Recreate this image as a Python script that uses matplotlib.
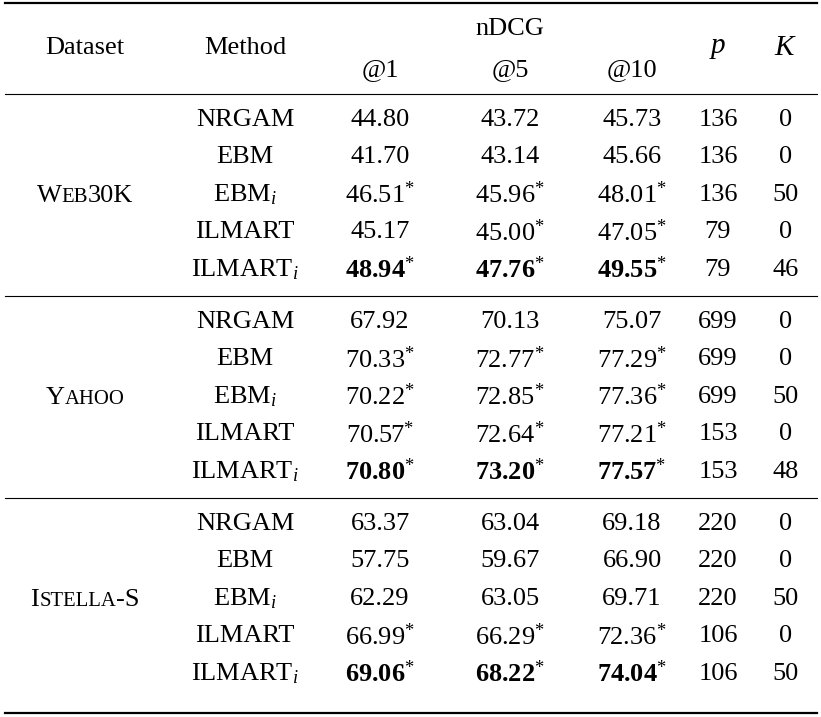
import matplotlib.pyplot as plt

plt.rcParams["font.family"] = ["Liberation Serif", "DejaVu Serif"]
plt.rcParams["mathtext.fontset"] = "custom"
plt.rcParams["mathtext.rm"] = "Liberation Serif"
plt.rcParams["mathtext.it"] = "Liberation Serif:italic"
plt.rcParams["mathtext.bf"] = "Liberation Serif:bold"

# dataset names as (text, small-caps?) pieces
datasets = [
    [("W", False), ("EB", True), ("30K", False)],
    [("Y", False), ("AHOO", True)],
    [("I", False), ("STELLA", True), ("-S", False)],
]
methods = ["NRGAM", "EBM", "EBM$_i$", "ILMART", "ILMART$_i$"]
ndcg1 = [
    ["44.80", "41.70", "46.51*", "45.17", "B48.94*"],
    ["67.92", "70.33*", "70.22*", "70.57*", "B70.80*"],
    ["63.37", "57.75", "62.29", "66.99*", "B69.06*"],
]
ndcg5 = [
    ["43.72", "43.14", "45.96*", "45.00*", "B47.76*"],
    ["70.13", "72.77*", "72.85*", "72.64*", "B73.20*"],
    ["63.04", "59.67", "63.05", "66.29*", "B68.22*"],
]
ndcg10 = [
    ["45.73", "45.66", "48.01*", "47.05*", "B49.55*"],
    ["75.07", "77.29*", "77.36*", "77.21*", "B77.57*"],
    ["69.18", "66.90", "69.71", "72.36*", "B74.04*"],
]
p_vals = [[136, 136, 136, 79, 79], [699, 699, 699, 153, 153], [220, 220, 220, 106, 106]]
k_vals = [[0, 0, 50, 0, 46], [0, 0, 50, 0, 48], [0, 0, 50, 0, 50]]

FS = 19
fig = plt.figure(figsize=(8.21, 7.17), dpi=100)
ax = fig.add_axes([0, 0, 1, 1])
ax.set_xlim(0, 821)
ax.set_ylim(717, 0)
ax.axis("off")
renderer = fig.canvas.get_renderer()

col_x = {"ds": 85, "m": 245, "n1": 380, "n5": 510, "n10": 632, "p": 718, "k": 786}


def fmt(v):
    bold = v.startswith("B")
    v = v.lstrip("B")
    star = v.endswith("*")
    num = v.rstrip("*")
    if bold:
        s = r"$\mathbf{" + num + "}"
        return s + ("^{*}$" if star else "$")
    return num + ("$^{*}$" if star else "")


def smallcaps(pieces, x, y):
    arts = []
    for txt, small in pieces:
        arts.append(ax.text(0, y, txt, fontsize=FS * 0.78 if small else FS,
                            va="baseline", ha="left"))
    widths = [a.get_window_extent(renderer).width for a in arts]
    cur = x - sum(widths) / 2
    for a, w in zip(arts, widths):
        a.set_x(cur)
        cur += w


# rules
block_lines = [94, 296, 498]
ax.plot([5, 817], [3, 3], color="black", lw=1.6)
for yl in block_lines:
    ax.plot([5, 817], [yl, yl], color="black", lw=0.8)
ax.plot([5, 817], [713, 713], color="black", lw=1.6)

# header
ax.text(col_x["ds"], 48, "Dataset", fontsize=FS, ha="center", va="center")
ax.text(col_x["m"], 48, "Method", fontsize=FS, ha="center", va="center")
ax.text(col_x["n5"], 29, "nDCG", fontsize=FS, ha="center", va="center")
ax.text(col_x["n1"], 70, "@1", fontsize=FS, ha="center", va="center")
ax.text(col_x["n5"], 70, "@5", fontsize=FS, ha="center", va="center")
ax.text(col_x["n10"], 70, "@10", fontsize=FS, ha="center", va="center")
ax.text(col_x["p"], 48, "$p$", fontsize=FS + 2, ha="center", va="center")
ax.text(col_x["k"], 48, "$K$", fontsize=FS + 2, ha="center", va="center")

step = 37.4
for b in range(3):
    top = block_lines[b] + 26
    for r in range(5):
        y = top + r * step
        ax.text(col_x["m"], y, methods[r], fontsize=FS, ha="center", va="center")
        ax.text(col_x["n1"], y, fmt(ndcg1[b][r]), fontsize=FS, ha="center", va="center")
        ax.text(col_x["n5"], y, fmt(ndcg5[b][r]), fontsize=FS, ha="center", va="center")
        ax.text(col_x["n10"], y, fmt(ndcg10[b][r]), fontsize=FS, ha="center", va="center")
        ax.text(col_x["p"], y, str(p_vals[b][r]), fontsize=FS, ha="center", va="center")
        ax.text(col_x["k"], y, str(k_vals[b][r]), fontsize=FS, ha="center", va="center")
    smallcaps(datasets[b], col_x["ds"], top + 2 * step + 7)

fig.savefig("out.png", dpi=100)
